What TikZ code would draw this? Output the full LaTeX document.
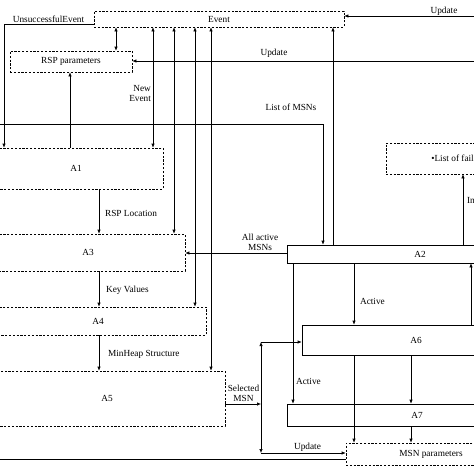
\documentclass[tikz,border=0pt]{standalone}
\usepackage{fontspec}
\setmainfont{Liberation Serif}
\usetikzlibrary{arrows.meta}

\tikzset{every picture/.style={line width=0.6pt}}
\tikzset{
  dbox/.style={draw, dash pattern=on 2.2pt off 1.6pt, inner sep=0pt, font=\fontsize{9.3}{10.5}\selectfont},
  sbox/.style={draw, inner sep=0pt, font=\fontsize{9.3}{10.5}\selectfont},
  lbl/.style={inner sep=0.75pt, align=center, font=\fontsize{9.3}{10.5}\selectfont},
  >={Latex[length=4pt,width=3.4pt]}
}

\begin{document}
\begin{tikzpicture}[x=1pt,y=1pt,yscale=-1,xscale=1]
\useasboundingbox (0,0) rectangle (474,474);
\clip (0,0) rectangle (474,474);

%Shape: Rectangle [Event]
\node[dbox, minimum width=250pt, minimum height=16pt] (Event) at (219,19) {Event};
%Shape: Rectangle [RSP parameters]
\node[dbox, minimum width=122pt, minimum height=21pt] (RSP) at (71,61.5) {RSP parameters};
%Shape: Rectangle [A1]
\node[dbox, minimum width=174pt, minimum height=41pt] (A1) at (76,168.5) {A1};
%Shape: Rectangle [A3]
\node[dbox, minimum width=194pt, minimum height=37pt] (A3) at (88,252.5) {A3};
%Shape: Rectangle [A4]
\node[dbox, minimum width=216pt, minimum height=28pt] (A4) at (98,321) {A4};
%Shape: Rectangle [A5]
\node[dbox, minimum width=236pt, minimum height=55pt] (A5) at (107,398.5) {A5};
%Shape: Rectangle [A2]
\node[sbox, minimum width=266pt, minimum height=18pt] (A2) at (420,254) {A2};
%Shape: Rectangle [A6]
\node[sbox, minimum width=228pt, minimum height=30pt] (A6) at (416,340) {A6};
%Shape: Rectangle [A7]
\node[sbox, minimum width=260pt, minimum height=22pt] (A7) at (417,415) {A7};
%Shape: Rectangle [MSN parameters]
\node[dbox, minimum width=170pt, minimum height=22pt] (MSN) at (431,454) {MSN parameters};
%Shape: Rectangle [failed]
\node[dbox, minimum width=168pt, minimum height=31pt] (Failed) at (470,158.5) {\textbullet List of failed MSNs};

%Free ends
\coordinate (updE) at (480,16);
\coordinate (updR) at (480,61);
\coordinate (lst) at (-5,124);
\coordinate (bot) at (-5,459);
\coordinate (busT) at (261,342);
\coordinate (busB) at (261,453);

%Straight Lines
\draw[->] (Event.west |- 0,24) -| (A1.north -| 4,0);
\draw[<->] (Event.south -| 116,0) -- (RSP.north -| 116,0);
\draw[->] (updR) -- (updR -| RSP.east);
\draw[->] (A1.north -| 70,0) -- (RSP.south -| 70,0);
\draw[<->] (Event.south -| 153,0) -- (A1.north -| 153,0);
\draw[<->] (Event.south -| 174,0) -- (A3.north -| 174,0);
\draw[<->] (Event.south -| 195,0) -- (A4.north -| 195,0);
\draw[<->] (Event.south -| 211,0) -- (A5.north -| 211,0);
\draw[->] (A2.north -| 333,0) -- (Event.south -| 333,0);
\draw[->] (updE) -- (updE -| Event.east);
\draw[->] (lst) -| (A2.north -| 323,0);
\draw[->] (A1.south -| 99,0) -- (A3.north -| 99,0);
\draw[->] (A3.south -| 99,0) -- (A4.north -| 99,0);
\draw[->] (A4.south -| 99,0) -- (A5.north -| 99,0);
\draw[->] (A2.west |- 0,253) -- (A3.east |- 0,253);
\draw[->] (A5.east |- 0,404) -- (busT |- 0,404);
\draw[<->] (busT) -- (busB);
\draw[->] (busT) -- (busT -| A6.west);
\draw[->] (busB) -- (busB -| MSN.west);
\draw (bot) -- (bot -| MSN.west);
\draw[->] (A2.south -| 354,0) -- (A6.north -| 354,0);
\draw[->] (A2.south -| 293,0) -- (A7.north -| 293,0);
\draw[->] (A6.south -| 354,0) -- (MSN.north -| 354,0);
\draw[->] (A6.south -| 411,0) -- (A7.north -| 411,0);
\draw[->] (A7.south -| 411,0) -- (MSN.north -| 411,0);
\draw[->] (A6.north -| 471,0) -- (A2.south -| 471,0);
\draw[->] (A2.north -| 463,0) -- (Failed.south -| 463,0);

% Text Node
\node[lbl] (lUnsucc) at (48.5,19) {UnsuccessfulEvent};
% Text Node
\node[lbl] (lUpdE) at (444,11) {Update};
% Text Node
\node[lbl] (lUpdR) at (274,53) {Update};
% Text Node
\node[lbl, align=right, anchor=east] (lNew) at (152,93.5) {New\\Event};
% Text Node
\node[lbl] (lList) at (291,107) {List of MSNs};
% Text Node
\node[lbl, anchor=west] (lLoc) at (104,213) {RSP Location};
% Text Node
\node[lbl, anchor=west] (lKey) at (105,290) {Key Values};
% Text Node
\node[lbl, anchor=west] (lHeap) at (107,354) {MinHeap Structure};
% Text Node
\node[lbl] (lAll) at (260,242.5) {All active\\MSNs};
% Text Node
\node[lbl] (lSel) at (243.5,393.5) {Selected\\MSN};
% Text Node
\node[lbl, anchor=west] (lAct) at (359,301) {Active};
% Text Node
\node[lbl, anchor=west] (lActB) at (295,381) {Active};
% Text Node
\node[lbl] (lUpdB) at (307.5,447) {Update};
% Text Node
\node[lbl, anchor=west] (lIn) at (466,200) {Inactive};

\end{tikzpicture}
\end{document}
